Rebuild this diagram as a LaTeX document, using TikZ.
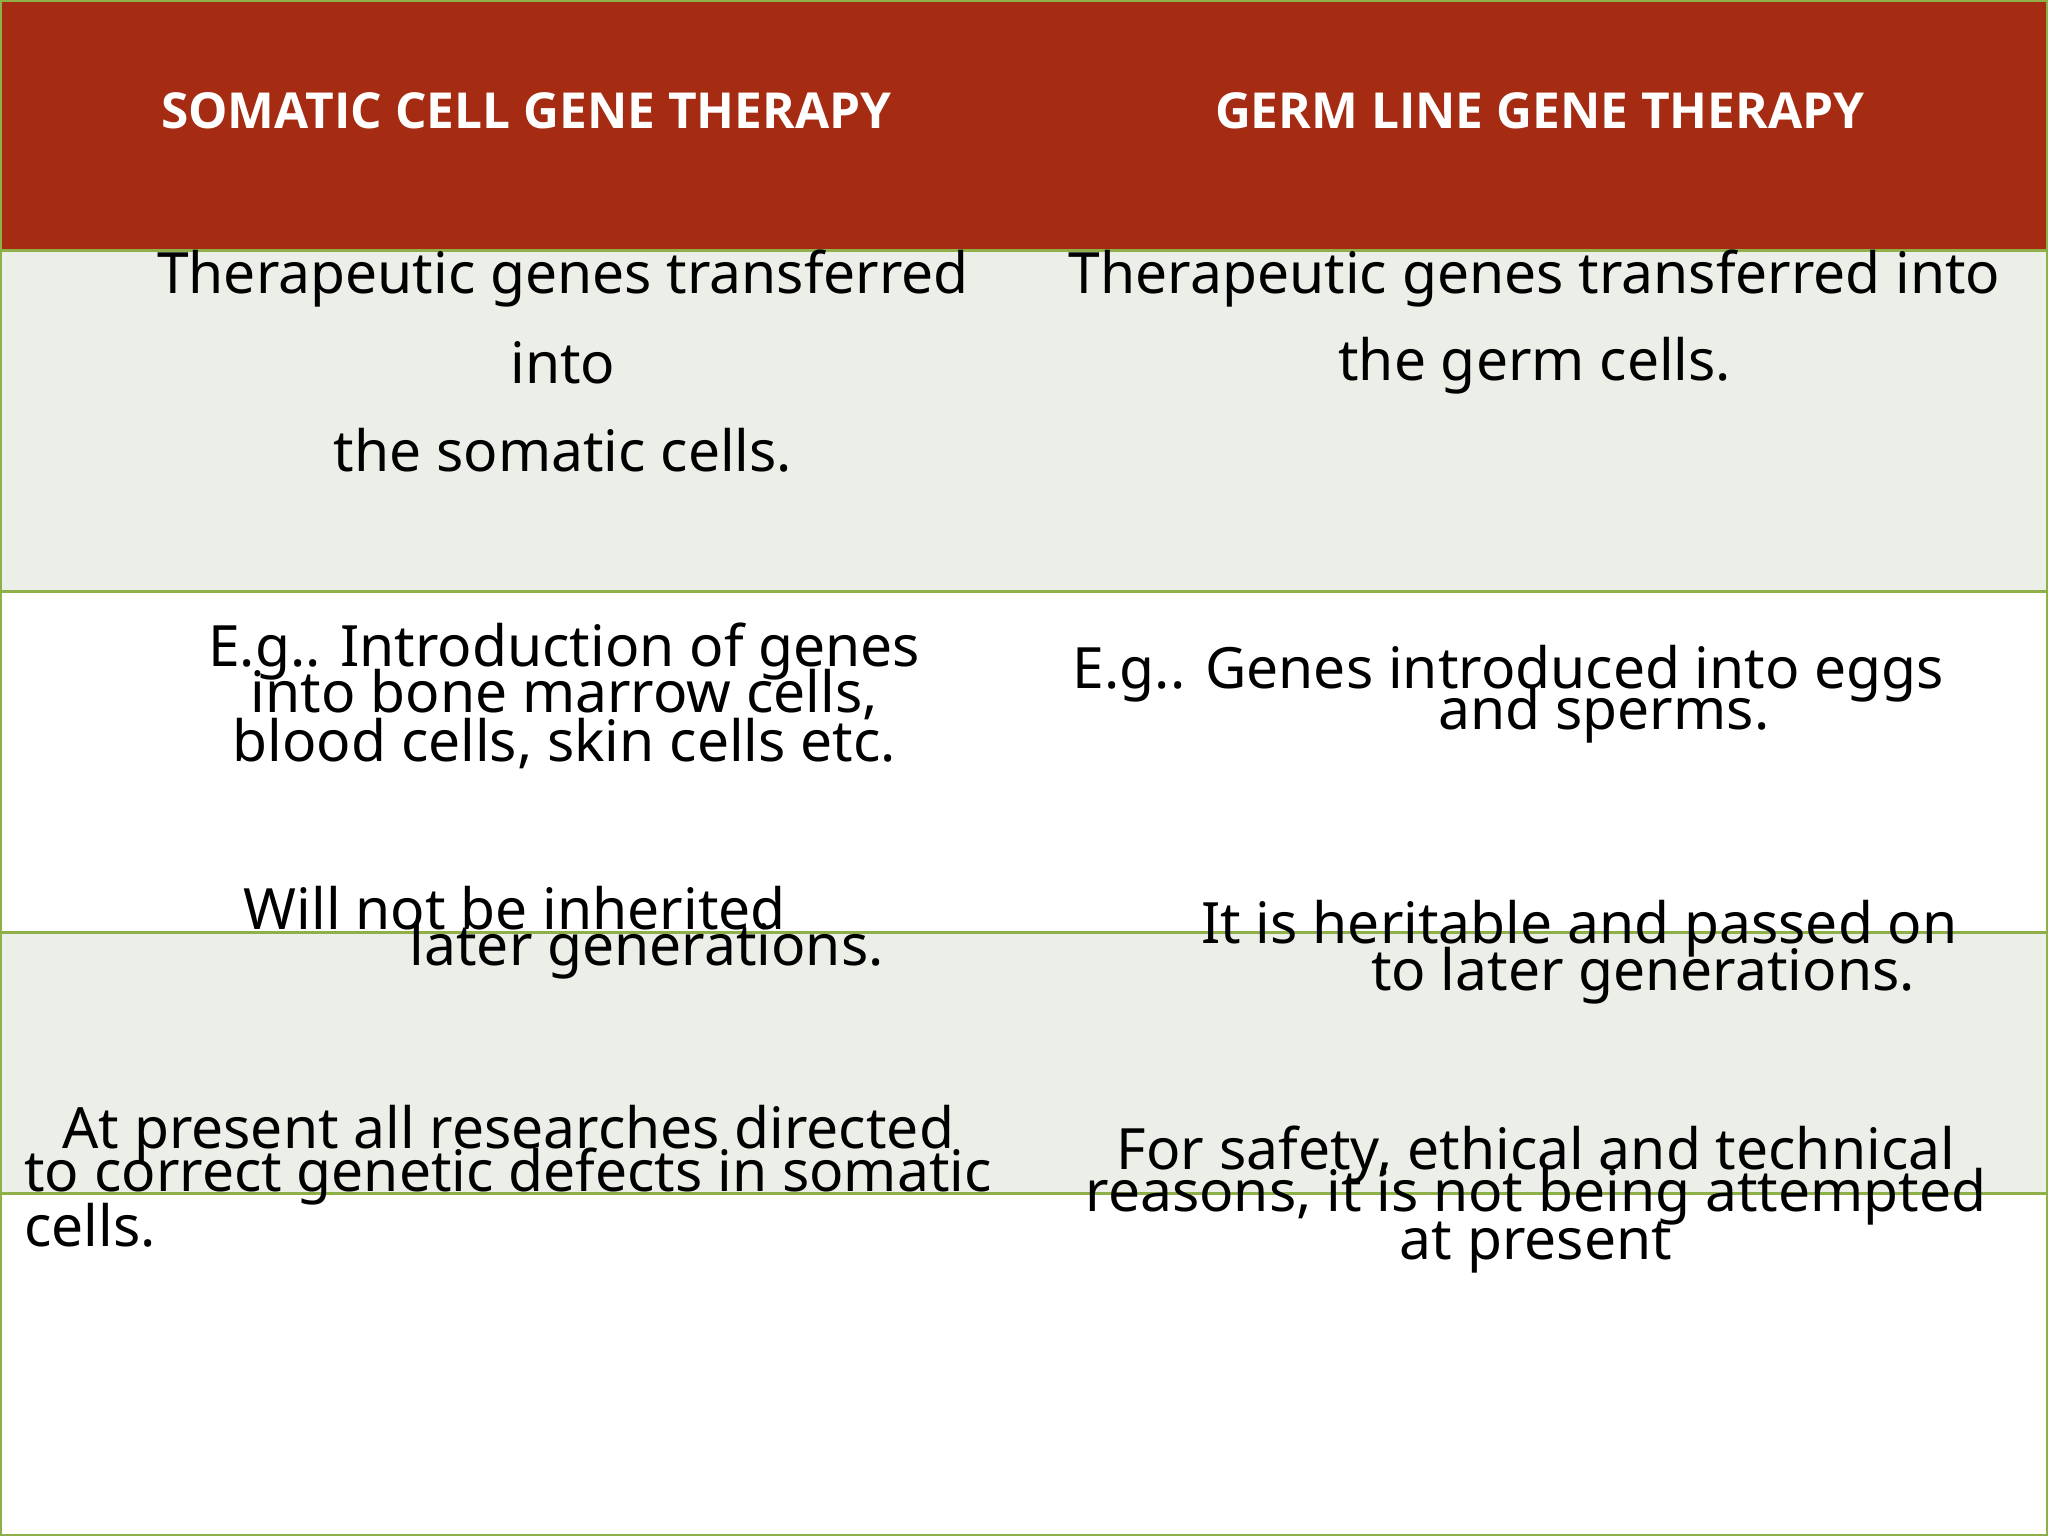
\documentclass[tikz,border=0pt]{standalone}
\usepackage{fontspec}
\setmainfont{Noto Sans}
\newfontfamily\hdfont{Open Sans}
\definecolor{hdr}{HTML}{A52C12}
\definecolor{band}{HTML}{ECEFE8}
\definecolor{rule}{HTML}{8FAF48}
\tikzset{
 hd/.style={text=white,font=\hdfont\fontsize{10.8}{12}\selectfont\bfseries,inner sep=0pt,anchor=center},
 tx/.style={text=black,font=\fontsize{12.4}{14}\selectfont,inner sep=0pt},
}
\begin{document}
\begin{tikzpicture}[x=0.01cm,y=-0.01cm]
\useasboundingbox (0,0) rectangle (1568,1176);
\fill[hdr] (0,0) rectangle (1568,192);
\fill[band] (0,192) rectangle (1568,453);
\fill[band] (0,714) rectangle (1568,914);
\foreach \y in {192,453,714,914} \draw[rule,line width=0.6pt] (0,\y) -- (1568,\y);
\draw[rule,line width=0.8pt] (0,0) rectangle (1568,1176);
\node[hd] (h1) at (403,85) {SOMATIC CELL GENE THERAPY};
\node[hd] (h2) at (1179,85) {GERM LINE GENE THERAPY};
\node[tx] (a1) at (431,213) {Therapeutic genes transferred};
\node[tx] (a2) at (431,278) {into};
\node[tx] (a3) at (431,345) {the somatic cells.};
\node[tx] (b1) at (1175,213) {Therapeutic genes transferred into};
\node[tx] (b2) at (1175,280) {the germ cells.};
\node[tx] (c1) at (432,499) {E.g.. Introduction of genes};
\node[tx] (c2) at (432,532) {into bone marrow cells,};
\node[tx] (c3) at (432,569) {blood cells, skin cells etc.};
\node[tx] (d1) at (1155,516) {E.g.. Genes introduced into eggs};
\node[tx] (d2) at (1228,547) {and sperms.};
\node[tx,anchor=west] (e1) at (186,695) {Will not be inherited};
\node[tx,anchor=west] (e2) at (313,728) {later generations.};
\node[tx,anchor=west] (f1) at (919,711) {It is heritable and passed on};
\node[tx,anchor=west] (f2) at (1049,747) {to later generations.};
\node[tx,anchor=west] (g1) at (47,868) {At present all researches directed};
\node[tx,anchor=west] (g2) at (18,901) {to correct genetic defects in somatic};
\node[tx,anchor=west] (g3) at (18,938) {cells.};
\node[tx] (k1) at (1176,884) {For safety, ethical and technical};
\node[tx] (k2) at (1176,916) {reasons, it is not being attempted};
\node[tx] (k3) at (1176,955) {at present};
\end{tikzpicture}
\end{document}
